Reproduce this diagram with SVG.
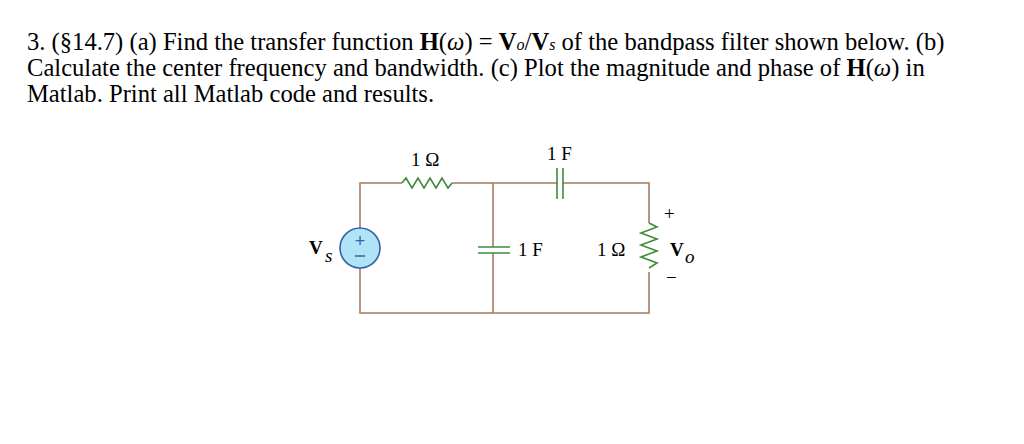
<svg xmlns="http://www.w3.org/2000/svg" width="1024" height="444" viewBox="0 0 1024 444">
<style>
.t{font-family:"Liberation Serif",serif;font-size:24.6px;fill:#000}
.l{font-family:"Liberation Serif",serif;font-size:19px;fill:#000}
.w{stroke:#a87a5c;stroke-width:1.6;fill:none}
.g{stroke:#3f8a3a;stroke-width:1.6;fill:none}
</style>
<rect width="1024" height="444" fill="#fff"/>
<g id="text">
<text class="t" x="27" y="50">3. (§14.7) (a) Find the transfer function <tspan font-weight="bold">H</tspan>(<tspan font-style="italic">ω</tspan>) = <tspan font-weight="bold">V</tspan><tspan font-size="16" font-style="italic">o</tspan>/<tspan font-weight="bold">V</tspan><tspan font-size="16" font-style="italic">s</tspan> of the bandpass filter shown below. (b)</text>
<text class="t" x="27" y="76">Calculate the center frequency and bandwidth. (c) Plot the magnitude and phase of <tspan font-weight="bold">H</tspan>(<tspan font-style="italic">ω</tspan>) in</text>
<text class="t" x="27" y="102">Matlab. Print all Matlab code and results.</text>
</g>
<g id="connectors">
<path class="w" d="M360 228 V183 H402 M452 183 H557 M563 183 H649 V223 M649 272 V313 H360 V268 M493 183 V247 M493 253 V313"/>
</g>
<g id="R1"><path class="g" d="M402 183 l4 -5 l6 10 l6 -10 l6 10 l6 -10 l6 10 l6 -10 l6 10 l4 -5"/><text class="l" x="411" y="166">1 Ω</text></g>
<g id="C1"><path class="g" d="M557 168 V199 M563 168 V199"/><text class="l" x="547" y="160">1 F</text></g>
<g id="C2"><path class="g" d="M478 247 H510 M478 253 H510"/><text class="l" x="518" y="256">1 F</text></g>
<g id="R2"><path class="g" d="M649 223 l8 4 l-16 6 l16 6 l-16 6 l16 6 l-16 6 l16 6 l-8 5"/><text class="l" x="597" y="256">1 Ω</text>
<text class="l" x="664" y="220">+</text><text class="l" x="666" y="284">−</text>
<text class="l" x="670" y="256" font-weight="bold">V</text><text class="l" x="685" y="263" font-size="14" font-style="italic">o</text></g>
<g id="Vs"><circle cx="360" cy="248" r="20" fill="#aee4f5" stroke="#3a5fb0" stroke-width="1.6"/>
<text x="360" y="247" text-anchor="middle" font-family="Liberation Sans,sans-serif" font-size="18" fill="#3a5fb0">+</text>
<path d="M355 256 H365" stroke="#3a5fb0" stroke-width="1.5"/>
<text class="l" x="309" y="254" font-weight="bold">V</text><text class="l" x="325" y="262" font-size="14" font-style="italic">s</text></g>
</svg>
